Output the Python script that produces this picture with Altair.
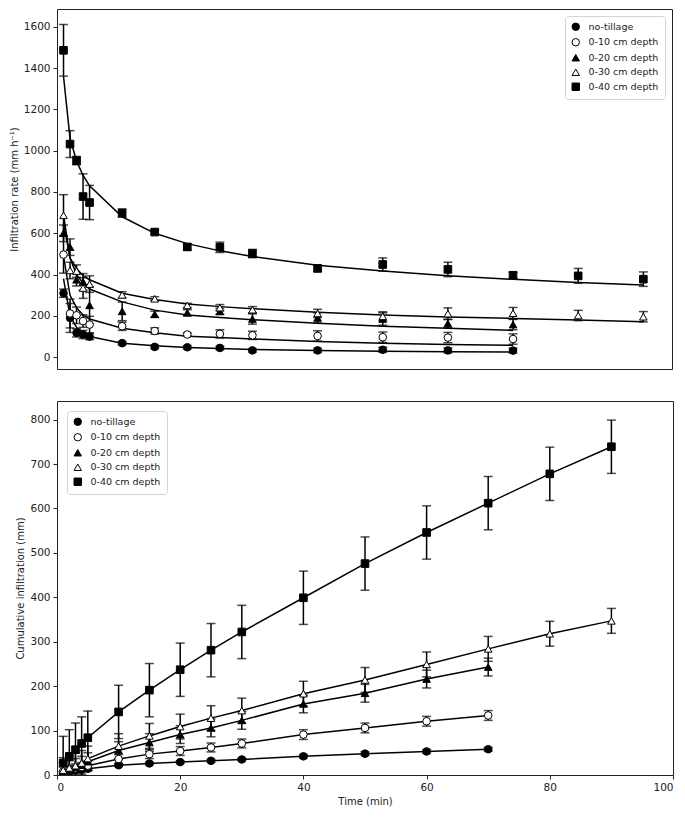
import altair as alt
import pandas as pd

series = ["no-tillage", "0-10 cm depth", "0-20 cm depth", "0-30 cm depth", "0-40 cm depth"]
shapes = ["circle", "circle", "triangle-up", "triangle-up", "square"]
fills = ["black", "white", "black", "white", "black"]
outlines = ["black", "black", "black", "black", "black"]

t_short = [1, 2, 3, 4, 5, 10, 15, 20, 25, 30, 40, 50, 60, 70]
t_long = [1, 2, 3, 4, 5, 10, 15, 20, 25, 30, 40, 50, 60, 70, 80, 90]

# infiltration rate (mm h-1): measured, std error, fitted curve
rate_nt = [310, 190, 118, 110, 100, 68, 50, 48, 45, 33, 33, 36, 33, 32]
rate_nt_err = [20, 70, 20, 20, 15, 8, 8, 8, 8, 8, 10, 12, 12, 12]
rate_nt_fit = [380, 200, 145, 118, 100, 68, 55, 47, 42, 38, 32, 29, 27, 25]

rate_10 = [497, 212, 203, 175, 158, 150, 127, 110, 113, 106, 103, 97, 95, 88]
rate_10_err = [90, 70, 40, 30, 40, 20, 15, 8, 20, 20, 25, 25, 25, 25]
rate_10_fit = [490, 300, 240, 205, 185, 140, 118, 102, 95, 88, 76, 68, 62, 58]

rate_20 = [600, 533, 375, 365, 251, 222, 208, 215, 222, 185, 190, 185, 163, 158]
rate_20_err = [40, 40, 30, 40, 90, 45, 15, 15, 15, 25, 25, 30, 20, 25]
rate_20_fit = [650, 480, 400, 360, 330, 268, 228, 205, 192, 182, 164, 150, 140, 130]

rate_30 = [687, 420, 417, 335, 354, 302, 283, 251, 240, 230, 212, 198, 211, 213, 202, 196]
rate_30_err = [100, 40, 30, 50, 40, 15, 10, 10, 15, 15, 20, 22, 28, 28, 25, 25]
rate_30_fit = [690, 480, 430, 395, 375, 310, 280, 258, 245, 235, 218, 205, 195, 188, 180, 172]

rate_40 = [1486, 1032, 952, 778, 749, 698, 606, 534, 532, 502, 430, 449, 425, 397, 394, 378]
rate_40_err = [125, 65, 20, 110, 83, 20, 10, 15, 25, 20, 15, 32, 35, 15, 36, 35]
rate_40_fit = [1360, 1060, 950, 880, 830, 680, 600, 550, 515, 488, 445, 418, 395, 377, 362, 350]

# cumulative infiltration (mm): measured and std error
cum_nt = [5, 7, 10, 12, 14, 22, 26, 29, 32, 35, 42, 48, 53, 58]
cum_nt_err = [3, 3, 3, 3, 3, 3, 3, 3, 3, 3, 4, 4, 4, 4]
cum_10 = [8, 12, 15, 18, 21, 36, 47, 54, 62, 71, 91, 106, 121, 134]
cum_10_err = [10, 10, 10, 10, 10, 10, 10, 10, 10, 10, 11, 11, 11, 11]
cum_20 = [8, 12, 17, 22, 30, 55, 73, 91, 106, 123, 160, 184, 216, 243]
cum_20_err = [20, 20, 20, 20, 20, 20, 20, 20, 20, 20, 20, 20, 20, 20]
cum_30 = [11, 16, 21, 27, 37, 65, 88, 109, 128, 145, 183, 214, 249, 284, 318, 347]
cum_30_err = [28, 28, 28, 28, 28, 28, 28, 28, 28, 28, 28, 28, 28, 28, 28, 28]
cum_40 = [27, 42, 57, 71, 84, 142, 191, 237, 281, 322, 399, 476, 546, 612, 678, 739]
cum_40_err = [60, 60, 60, 60, 60, 60, 60, 60, 60, 60, 60, 60, 60, 60, 60, 60]


def table(name, times, obs, err, fit=None):
    df = pd.DataFrame({"time": times, "obs": obs, "err": err})
    df["lo"] = df["obs"] - df["err"]
    df["hi"] = df["obs"] + df["err"]
    df["fit"] = fit if fit is not None else obs
    df["series"] = name
    return df


rate = pd.concat([
    table(series[0], t_short, rate_nt, rate_nt_err, rate_nt_fit),
    table(series[1], t_short, rate_10, rate_10_err, rate_10_fit),
    table(series[2], t_short, rate_20, rate_20_err, rate_20_fit),
    table(series[3], t_long, rate_30, rate_30_err, rate_30_fit),
    table(series[4], t_long, rate_40, rate_40_err, rate_40_fit),
])
cum = pd.concat([
    table(series[0], t_short, cum_nt, cum_nt_err),
    table(series[1], t_short, cum_10, cum_10_err),
    table(series[2], t_short, cum_20, cum_20_err),
    table(series[3], t_long, cum_30, cum_30_err),
    table(series[4], t_long, cum_40, cum_40_err),
])

FONT = "DejaVu Sans"


def panel(df, x, yscale, yaxis, legend_orient, legend_offset):
    legend = alt.Legend(
        title=None, orient=legend_orient, offset=legend_offset, padding=6,
        fillColor="white", strokeColor="#d4d4d4", cornerRadius=3,
        labelFont=FONT, labelFontSize=9.5, labelColor="#222",
        symbolSize=55, symbolStrokeWidth=1, rowPadding=3.5, labelOffset=8,
    )

    def y(field):
        return alt.Y(field, scale=yscale, axis=yaxis)

    base = alt.Chart(df)
    lines = base.mark_line(color="black", strokeWidth=1.5, clip=True).encode(
        x=x, y=y("fit:Q"), detail="series:N",
    )
    bars = base.mark_rule(color="black", strokeWidth=1.5, clip=True).encode(
        x=x, y=y("lo:Q"), y2="hi:Q",
    )
    cap_lo = base.mark_tick(orient="horizontal", color="black", size=9, thickness=1.5,
                            clip=True).encode(x=x, y=y("lo:Q"))
    cap_hi = base.mark_tick(orient="horizontal", color="black", size=9, thickness=1.5,
                            clip=True).encode(x=x, y=y("hi:Q"))
    # shape, fill and a constant black outline share one legend
    points = base.mark_point(filled=True, strokeWidth=1, size=58,
                             opacity=1, clip=True).encode(
        x=x, y=y("obs:Q"),
        shape=alt.Shape("series:N", scale=alt.Scale(domain=series, range=shapes),
                        sort=series, legend=legend),
        fill=alt.Fill("series:N", scale=alt.Scale(domain=series, range=fills),
                      sort=series, legend=legend),
        stroke=alt.Stroke("series:N", scale=alt.Scale(domain=series, range=outlines),
                          sort=series, legend=legend),
    )
    return lines + bars + cap_lo + cap_hi + points


def axis(title, values):
    return alt.Axis(title=title, values=values, format="d", grid=False, domain=False,
                    tickColor="#222", tickSize=4, tickWidth=1,
                    labelFont=FONT, labelFontSize=10.5, labelColor="#222", labelPadding=3,
                    titleFont=FONT, titleFontSize=10, titleFontWeight="normal",
                    titleColor="#222", titlePadding=4)


top_x = alt.X("time:Q", scale=alt.Scale(domain=[0, 94.4], nice=False, zero=False), axis=None)
top_yscale = alt.Scale(domain=[-57, 1686], nice=False, zero=False)
top_yaxis = axis("Infiltration rate (mm h⁻¹)", [0, 200, 400, 600, 800, 1000, 1200, 1400, 1600])
bot_x = alt.X("time:Q", scale=alt.Scale(domain=[0, 100], nice=False),
              axis=axis("Time (min)", [0, 20, 40, 60, 80, 100]))
bot_yscale = alt.Scale(domain=[0, 842], nice=False)
bot_yaxis = axis("Cumulative infiltration (mm)", [0, 100, 200, 300, 400, 500, 600, 700, 800])

top = panel(rate, top_x, top_yscale, top_yaxis, "top-right", 7).properties(width=615, height=360)
bottom = panel(cum, bot_x, bot_yscale, bot_yaxis, "top-left", 10).properties(width=616, height=374)

chart = alt.vconcat(top, bottom, spacing=30).resolve_scale(
    x="independent", y="independent", shape="independent", fill="independent",
    stroke="independent",
).resolve_legend(
    shape="independent", fill="independent", stroke="independent",
).configure(padding=0).configure_view(stroke="#222", strokeWidth=1)

chart.save("out.html", embed_options={"renderer": "svg", "actions": False})
